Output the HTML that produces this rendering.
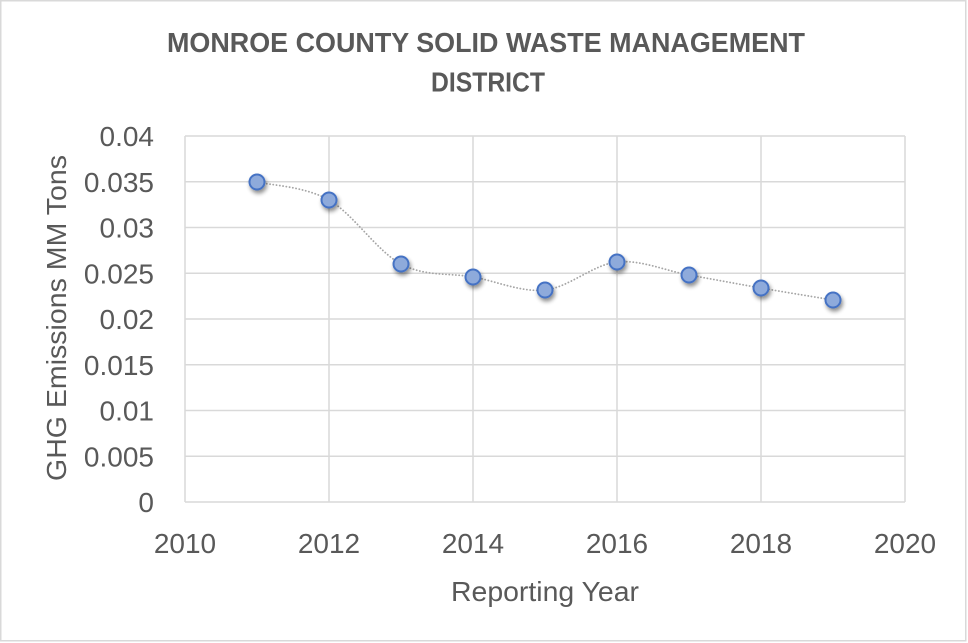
<!DOCTYPE html>
<html>
<head>
<meta charset="utf-8">
<style>
  html, body { margin:0; padding:0; background:#ffffff; }
  svg { display:block; }
  text { font-family: "Liberation Sans", sans-serif; fill:#595959; }
</style>
</head>
<body>
<svg width="968" height="643" viewBox="0 0 968 643" xmlns="http://www.w3.org/2000/svg">
  <defs>
    <filter id="sh" x="-50%" y="-50%" width="200%" height="200%">
      <feGaussianBlur in="SourceAlpha" stdDeviation="2"/>
      <feOffset dx="1.5" dy="3" result="b"/>
      <feComponentTransfer><feFuncA type="linear" slope="0.45"/></feComponentTransfer>
      <feMerge><feMergeNode/><feMergeNode in="SourceGraphic"/></feMerge>
    </filter>
  </defs>
  <rect x="0" y="0" width="968" height="643" fill="#ffffff"/>
  <rect x="0.75" y="0.75" width="965" height="640" fill="none" stroke="#d9d9d9" stroke-width="1.5"/>

  <!-- Title -->
  <text x="486" y="52" font-size="28" font-weight="bold" text-anchor="middle" textLength="638" lengthAdjust="spacingAndGlyphs">MONROE COUNTY SOLID WASTE MANAGEMENT</text>
  <text x="488" y="91.5" font-size="28" font-weight="bold" text-anchor="middle" textLength="114" lengthAdjust="spacingAndGlyphs">DISTRICT</text>

  <!-- Gridlines -->
  <g stroke="#d9d9d9" stroke-width="1.5" fill="none">
    <line x1="185" y1="136" x2="905" y2="136"/>
    <line x1="185" y1="181.75" x2="905" y2="181.75"/>
    <line x1="185" y1="227.5" x2="905" y2="227.5"/>
    <line x1="185" y1="273.25" x2="905" y2="273.25"/>
    <line x1="185" y1="319" x2="905" y2="319"/>
    <line x1="185" y1="364.75" x2="905" y2="364.75"/>
    <line x1="185" y1="410.5" x2="905" y2="410.5"/>
    <line x1="185" y1="456.25" x2="905" y2="456.25"/>
    <line x1="185" y1="502" x2="905" y2="502"/>
    <line x1="185" y1="136" x2="185" y2="502"/>
    <line x1="329" y1="136" x2="329" y2="502"/>
    <line x1="473" y1="136" x2="473" y2="502"/>
    <line x1="617" y1="136" x2="617" y2="502"/>
    <line x1="761" y1="136" x2="761" y2="502"/>
    <line x1="905" y1="136" x2="905" y2="502"/>
  </g>

  <!-- Y tick labels -->
  <g font-size="28" text-anchor="end">
    <text x="154" y="146">0.04</text>
    <text x="154" y="191.75">0.035</text>
    <text x="154" y="237.5">0.03</text>
    <text x="154" y="283.25">0.025</text>
    <text x="154" y="329">0.02</text>
    <text x="154" y="374.75">0.015</text>
    <text x="154" y="420.5">0.01</text>
    <text x="154" y="466.25">0.005</text>
    <text x="154" y="512">0</text>
  </g>

  <!-- X tick labels -->
  <g font-size="28" text-anchor="middle">
    <text x="185" y="553">2010</text>
    <text x="329" y="553">2012</text>
    <text x="473" y="553">2014</text>
    <text x="617" y="553">2016</text>
    <text x="761" y="553">2018</text>
    <text x="905" y="553">2020</text>
  </g>

  <!-- Axis titles -->
  <text x="545" y="601" font-size="28" text-anchor="middle" textLength="188" lengthAdjust="spacingAndGlyphs">Reporting Year</text>
  <text transform="translate(66,318) rotate(-90)" x="0" y="0" font-size="28" text-anchor="middle" textLength="326" lengthAdjust="spacingAndGlyphs">GHG Emissions MM Tons</text>

  <!-- Series line -->
  <path d="M257,182 C269,185 305,186.3 329,200 C353,213.7 377,251.2 401,264 C425,276.8 449,272.7 473,277 C497,281.3 521,292.5 545,290 C569,287.5 593,264.5 617,262 C641,259.5 665,270.7 689,275 C713,279.3 737,283.8 761,288 C785,292.2 821,298 833,300"
        fill="none" stroke="#a6a6a6" stroke-width="1.8" stroke-dasharray="0.1 3.2" stroke-linecap="round"/>

  <!-- Markers -->
  <g fill="#8eaadb" stroke="#4472c4" stroke-width="2" filter="url(#sh)">
    <circle cx="257" cy="182" r="7.5"/>
    <circle cx="329" cy="200" r="7.5"/>
    <circle cx="401" cy="264" r="7.5"/>
    <circle cx="473" cy="277" r="7.5"/>
    <circle cx="545" cy="290" r="7.5"/>
    <circle cx="617" cy="262" r="7.5"/>
    <circle cx="689" cy="275" r="7.5"/>
    <circle cx="761" cy="288" r="7.5"/>
    <circle cx="833" cy="300" r="7.5"/>
  </g>
</svg>
</body>
</html>
